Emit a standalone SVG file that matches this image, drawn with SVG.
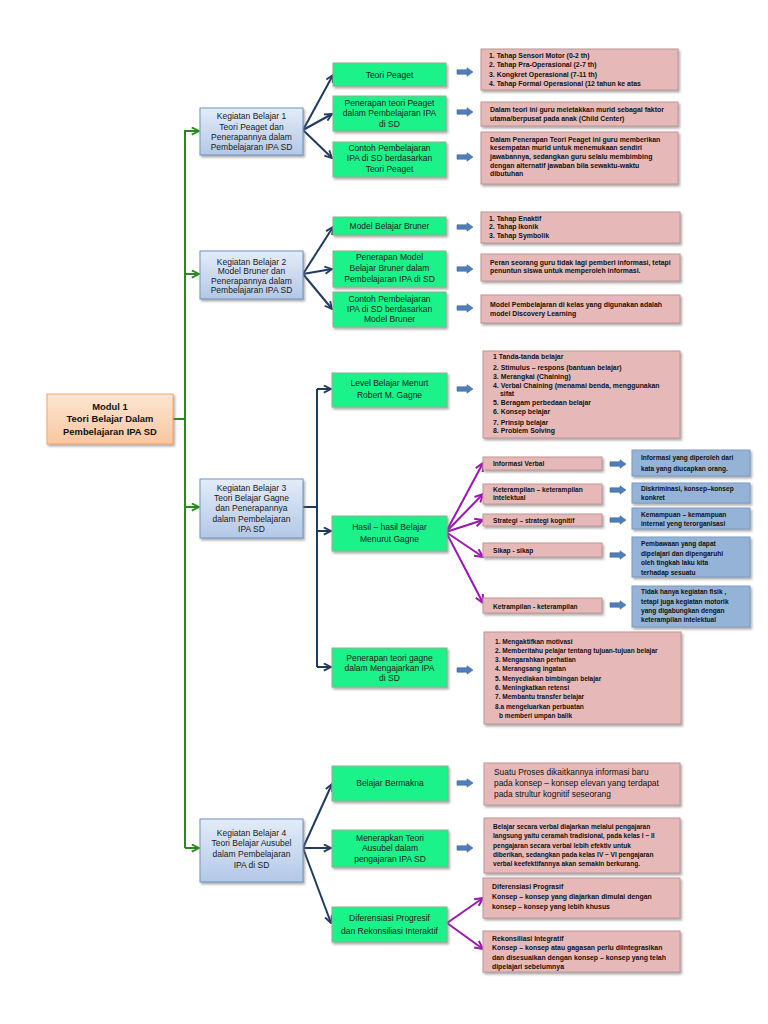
<svg xmlns="http://www.w3.org/2000/svg" width="768" height="1024" viewBox="0 0 768 1024">
<defs>
<style>
.g{fill:#1CF28A;stroke:#8FAF8F;stroke-width:1}
.k{fill:url(#kg);stroke:#6F93C4;stroke-width:1}
.p{fill:#E6B9B8;stroke:#BF9695;stroke-width:1}
.b{fill:#95B3D7;stroke:#7C9BC3;stroke-width:1}
.m{fill:url(#mg);stroke:#F2A56B;stroke-width:1}
.sh{filter:url(#ds)}
text{font-family:"Liberation Sans",Arial,sans-serif;fill:#111}
.t{font-size:8.5px;text-anchor:middle;fill:#1a1a1a}
.tm{font-size:9.4px;font-weight:bold;text-anchor:middle}
.s{font-size:6.6px;font-weight:bold}
.sl{font-size:6.9px;font-weight:bold}
.s2{font-size:6.55px;font-weight:bold}
.nv{fill:none;stroke:#1F3A63;stroke-width:2}
.gr{fill:none;stroke:#2A8A1F;stroke-width:2}
.pu{fill:none;stroke:#9A17B0;stroke-width:2}
.ba{fill:#4F7FBA;stroke:#3E6698;stroke-width:0.6}
</style>
<linearGradient id="kg" x1="0" y1="0" x2="0" y2="1"><stop offset="0" stop-color="#E3ECF8"/><stop offset="1" stop-color="#B3C8E6"/></linearGradient>
<linearGradient id="mg" x1="0" y1="0" x2="0" y2="1"><stop offset="0" stop-color="#FDE6D3"/><stop offset="1" stop-color="#F9C6A0"/></linearGradient>
<filter id="ds" x="-10%" y="-20%" width="130%" height="150%"><feDropShadow dx="1.5" dy="2" stdDeviation="0.8" flood-color="#777" flood-opacity="0.6"/></filter>
<marker id="an" viewBox="0 0 10 10" refX="9" refY="5" markerWidth="9" markerHeight="9" markerUnits="userSpaceOnUse" orient="auto"><path d="M1,1 L9,5 L1,9" fill="none" stroke="#1F3A63" stroke-width="2"/></marker>
<marker id="ag" viewBox="0 0 10 10" refX="9" refY="5" markerWidth="9" markerHeight="9" markerUnits="userSpaceOnUse" orient="auto"><path d="M1,1 L9,5 L1,9" fill="none" stroke="#2A8A1F" stroke-width="2"/></marker>
<marker id="ap" viewBox="0 0 10 10" refX="9" refY="5" markerWidth="10" markerHeight="10" markerUnits="userSpaceOnUse" orient="auto"><path d="M1,1 L9,5 L1,9" fill="none" stroke="#9A17B0" stroke-width="2"/></marker>
<path id="blk" class="ba" d="M0,-2.2 H10 V-4.2 L16,0 L10,4.2 V2.2 H0 Z"/>
</defs>
<rect width="768" height="1024" fill="#fff"/>

<g id="connectors">
<path class="gr" d="M173,419 H185 M185,130 V848"/>
<path class="gr" marker-end="url(#ag)" d="M185,131 H199"/>
<path class="gr" marker-end="url(#ag)" d="M185,274 H199"/>
<path class="gr" marker-end="url(#ag)" d="M185,507 H199"/>
<path class="gr" marker-end="url(#ag)" d="M185,848 H199"/>

<path class="nv" marker-end="url(#an)" d="M303,130 L333,75"/>
<path class="nv" marker-end="url(#an)" d="M303,130 L332,114"/>
<path class="nv" marker-end="url(#an)" d="M303,130 L332,158"/>
<path class="nv" marker-end="url(#an)" d="M303,274 L333,227"/>
<path class="nv" marker-end="url(#an)" d="M303,274 L332,269"/>
<path class="nv" marker-end="url(#an)" d="M303,274 L332,309"/>
<path class="nv" d="M303,507 H317 M317,389 V667"/>
<path class="nv" marker-end="url(#an)" d="M317,389 H331"/>
<path class="nv" marker-end="url(#an)" d="M317,531 H331"/>
<path class="nv" marker-end="url(#an)" d="M317,667 H331"/>
<path class="nv" marker-end="url(#an)" d="M303,848 L332,784"/>
<path class="nv" marker-end="url(#an)" d="M303,848 L331,848"/>
<path class="nv" marker-end="url(#an)" d="M303,848 L331,923"/>

<path class="pu" marker-end="url(#ap)" d="M446,532 L483,463"/>
<path class="pu" marker-end="url(#ap)" d="M446,532 L483,494"/>
<path class="pu" marker-end="url(#ap)" d="M446,532 L483,520"/>
<path class="pu" marker-end="url(#ap)" d="M446,532 L483,557"/>
<path class="pu" marker-end="url(#ap)" d="M446,532 L483,603"/>
<path class="pu" marker-end="url(#ap)" d="M447,923 L483,898"/>
<path class="pu" marker-end="url(#ap)" d="M447,923 L483,949"/>

<use href="#blk" x="457" y="72"/>
<use href="#blk" x="457" y="112"/>
<use href="#blk" x="457" y="157"/>
<use href="#blk" x="457" y="227"/>
<use href="#blk" x="457" y="269"/>
<use href="#blk" x="457" y="308"/>
<use href="#blk" x="457" y="389"/>
<use href="#blk" x="457" y="670"/>
<use href="#blk" x="457" y="783"/>
<use href="#blk" x="457" y="848"/>
<use href="#blk" x="610" y="464"/>
<use href="#blk" x="610" y="490"/>
<use href="#blk" x="610" y="520"/>
<use href="#blk" x="610" y="555"/>
<use href="#blk" x="610" y="605"/>
</g>

<g id="modul1">
<rect class="m sh" x="47" y="394" width="126" height="50"/>
<text class="tm" x="110" y="410">Modul 1</text>
<text class="tm" x="110" y="422">Teori Belajar Dalam</text>
<text class="tm" x="110" y="435">Pembelajaran IPA SD</text>
</g>

<g id="kb1">
<rect class="k sh" x="200" y="108" width="103" height="47"/>
<text class="t" x="251.5" y="119">Kegiatan Belajar 1</text>
<text class="t" x="251.5" y="130">Teori Peaget dan</text>
<text class="t" x="251.5" y="140">Penerapannya dalam</text>
<text class="t" x="251.5" y="150">Pembelajaran IPA SD</text>
</g>
<g id="kb2">
<rect class="k sh" x="200" y="251" width="103" height="48"/>
<text class="t" x="251.5" y="265">Kegiatan Belajar 2</text>
<text class="t" x="251.5" y="274">Model Bruner dan</text>
<text class="t" x="251.5" y="284">Penerapannya dalam</text>
<text class="t" x="251.5" y="293">Pembelajaran IPA SD</text>
</g>
<g id="kb3">
<rect class="k sh" x="200" y="479" width="103" height="59"/>
<text class="t" x="251.5" y="491">Kegiatan Belajar 3</text>
<text class="t" x="251.5" y="501">Teori  Belajar Gagne</text>
<text class="t" x="251.5" y="511">dan Penerapannya</text>
<text class="t" x="251.5" y="522">dalam Pembelajaran</text>
<text class="t" x="251.5" y="532">IPA SD</text>
</g>
<g id="kb4">
<rect class="k sh" x="200" y="819" width="103" height="63"/>
<text class="t" x="251.5" y="836">Kegiatan Belajar 4</text>
<text class="t" x="251.5" y="846">Teori Belajar Ausubel</text>
<text class="t" x="251.5" y="857">dalam Pembelajaran</text>
<text class="t" x="251.5" y="868">IPA di SD</text>
</g>

<g id="g-peaget">
<rect class="g sh" x="333" y="63" width="113" height="23"/>
<text class="t" x="389.5" y="78">Teori Peaget</text>
</g>
<g id="g-penerapan-peaget">
<rect class="g sh" x="333" y="96" width="113" height="35"/>
<text class="t" x="389.5" y="106">Penerapan teori Peaget</text>
<text class="t" x="389.5" y="116">dalam Pembelajaran IPA</text>
<text class="t" x="389.5" y="127">di SD</text>
</g>
<g id="g-contoh-peaget">
<rect class="g sh" x="333" y="142" width="113" height="35"/>
<text class="t" x="389.5" y="151">Contoh Pembelajaran</text>
<text class="t" x="389.5" y="161">IPA di  SD berdasarkan</text>
<text class="t" x="389.5" y="172">Teori Peaget</text>
</g>

<g id="p-peaget">
<rect class="p sh" x="481" y="49" width="197" height="41"/>
<text class="sl" x="489" y="57.5">1. Tahap Sensori Motor (0-2 th)</text>
<text class="sl" x="489" y="67">2. Tahap Pra-Operasional (2-7 th)</text>
<text class="sl" x="489" y="76.5">3. Kongkret Operasional (7-11 th)</text>
<text class="sl" x="489" y="86">4. Tahap Formal Operasional (12 tahun ke atas</text>
</g>
<g id="p-penerapan-peaget">
<rect class="p sh" x="481" y="102" width="197" height="24"/>
<text class="sl" x="490" y="111.5">Dalam teori ini guru meletakkan murid sebagai faktor</text>
<text class="sl" x="490" y="120.5">utama/berpusat pada anak (Child Center)</text>
</g>
<g id="p-contoh-peaget">
<rect class="p sh" x="481" y="132" width="197" height="52"/>
<text class="sl" x="490" y="141.5">Dalam Penerapan Teori Peaget ini guru memberikan</text>
<text class="sl" x="490" y="150">kesempatan murid untuk menemukaan sendiri</text>
<text class="sl" x="490" y="158.5">jawabannya, sedangkan guru selalu membimbing</text>
<text class="sl" x="490" y="167.5">dengan alternatif jawaban bila sewaktu-waktu</text>
<text class="sl" x="490" y="176">dibutuhan</text>
</g>

<g id="g-bruner">
<rect class="g sh" x="333" y="217" width="113" height="18"/>
<text class="t" x="389.5" y="229">Model Belajar Bruner</text>
</g>
<g id="g-penerapan-bruner">
<rect class="g sh" x="333" y="251" width="113" height="36"/>
<text class="t" x="389.5" y="260">Penerapan Model</text>
<text class="t" x="389.5" y="271">Belajar Bruner dalam</text>
<text class="t" x="389.5" y="282">Pembelajaran IPA di SD</text>
</g>
<g id="g-contoh-bruner">
<rect class="g sh" x="333" y="292" width="113" height="35"/>
<text class="t" x="389.5" y="302">Contoh Pembelajaran</text>
<text class="t" x="389.5" y="312">IPA di SD berdasarkan</text>
<text class="t" x="389.5" y="322">Model Bruner</text>
</g>

<g id="p-bruner">
<rect class="p sh" x="481" y="212" width="199" height="31"/>
<text class="sl" x="489" y="220.5">1. Tahap Enaktif</text>
<text class="sl" x="489" y="229">2. Tahap Ikonik</text>
<text class="sl" x="489" y="237.5">3. Tahap Symbolik</text>
</g>
<g id="p-penerapan-bruner">
<rect class="p sh" x="481" y="254" width="199" height="27"/>
<text class="sl" x="490" y="264.5">Peran seorang guru tidak lagi pemberi informasi, tetapi</text>
<text class="sl" x="490" y="273">penuntun siswa untuk memperoleh informasi.</text>
</g>
<g id="p-contoh-bruner">
<rect class="p sh" x="481" y="295" width="199" height="28"/>
<text class="sl" x="490" y="306.5">Model Pembelajaran di kelas yang digunakan adalah</text>
<text class="sl" x="490" y="315.5">model Discovery Learning</text>
</g>

<g id="g-level">
<rect class="g sh" x="332" y="373" width="115" height="34"/>
<text class="t" x="389.5" y="386">Level Belajar Menurt</text>
<text class="t" x="389.5" y="398">Robert M. Gagne</text>
</g>
<g id="p-level">
<rect class="p sh" x="483" y="351" width="197" height="87"/>
<text class="sl" x="493" y="358.5">1 Tanda-tanda belajar</text>
<text class="sl" x="493" y="370">2. Stimulus – respons (bantuan belajar)</text>
<text class="sl" x="493" y="378.5">3. Merangkai (Chaining)</text>
<text class="sl" x="493" y="387.5">4. Verbal Chaining (menamai benda, menggunakan</text>
<text class="sl" x="500" y="395.5">sifat</text>
<text class="sl" x="493" y="405">5. Beragam perbedaan belajar</text>
<text class="sl" x="493" y="413.5">6. Konsep belajar</text>
<text class="sl" x="493" y="424.5">7. Prinsip belajar</text>
<text class="sl" x="493" y="433">8. Problem Solving</text>
</g>

<g id="g-hasil">
<rect class="g sh" x="332" y="516" width="115" height="35"/>
<text class="t" x="389.5" y="530">Hasil – hasil Belajar</text>
<text class="t" x="389.5" y="542">Menurut Gagne</text>
</g>
<g id="h-verbal">
<rect class="p sh" x="483" y="457" width="119" height="13"/>
<text class="s" x="493" y="465.5">Informasi Verbal</text>
</g>
<g id="h-intelektual">
<rect class="p sh" x="483" y="484" width="119" height="20"/>
<text class="s" x="493" y="491.5">Keterampilan – keterampilan</text>
<text class="s" x="493" y="500">intelektual</text>
</g>
<g id="h-strategi">
<rect class="p sh" x="483" y="514" width="119" height="12"/>
<text class="s" x="493" y="522.5">Strategi – strategi kognitif</text>
</g>
<g id="h-sikap">
<rect class="p sh" x="483" y="543" width="119" height="14"/>
<text class="s" x="493" y="553">Sikap - sikap</text>
</g>
<g id="h-ketrampilan">
<rect class="p sh" x="483" y="598" width="119" height="15"/>
<text class="s" x="493" y="608.5">Ketrampilan - keterampilan</text>
</g>

<g id="bl-verbal">
<rect class="b sh" x="632" y="450" width="118" height="26"/>
<text class="s" x="641" y="459.5">Informasi yang diperoleh dari</text>
<text class="s" x="641" y="470.5">kata yang diucapkan orang.</text>
</g>
<g id="bl-intelektual">
<rect class="b sh" x="632" y="483" width="118" height="20"/>
<text class="s" x="641" y="490.5">Diskriminasi, konsep–konsep</text>
<text class="s" x="641" y="499.5">konkret</text>
</g>
<g id="bl-strategi">
<rect class="b sh" x="632" y="508" width="118" height="21"/>
<text class="s" x="641" y="516.5">Kemampuan – kemampuan</text>
<text class="s" x="641" y="525.5">internal yeng terorganisasi</text>
</g>
<g id="bl-sikap">
<rect class="b sh" x="632" y="537" width="118" height="40"/>
<text class="s" x="641" y="545.5">Pembawaan yang dapat</text>
<text class="s" x="641" y="555.5">dipelajari dan dipengaruhi</text>
<text class="s" x="641" y="565">oleh tingkah laku kita</text>
<text class="s" x="641" y="574.5">terhadap sesuatu</text>
</g>
<g id="bl-ketrampilan">
<rect class="b sh" x="632" y="586" width="118" height="41"/>
<text class="s" x="641" y="593.5">Tidak hanya kegiatan fisik ,</text>
<text class="s" x="641" y="603.5">tetapi juga kegiatan motorik</text>
<text class="s" x="641" y="612.5">yang digabungkan dengan</text>
<text class="s" x="641" y="621.5">keterampilan intelektual</text>
</g>

<g id="g-penerapan-gagne">
<rect class="g sh" x="332" y="648" width="115" height="39"/>
<text class="t" x="389.5" y="661">Penerapan teori gagne</text>
<text class="t" x="389.5" y="671">dalam Mengajarkan IPA</text>
<text class="t" x="389.5" y="681">di SD</text>
</g>
<g id="p-penerapan-gagne">
<rect class="p sh" x="484" y="632" width="197" height="92"/>
<text class="s2" x="495" y="643.5">1. Mengaktifkan motivasi</text>
<text class="s2" x="495" y="652.5">2. Memberitahu pelajar tentang tujuan-tujuan belajar</text>
<text class="s2" x="495" y="661.5">3. Mengarahkan perhatian</text>
<text class="s2" x="495" y="671">4. Merangsang ingatan</text>
<text class="s2" x="495" y="680.5">5. Menyediakan bimbingan belajar</text>
<text class="s2" x="495" y="690">6. Meningkatkan retensi</text>
<text class="s2" x="495" y="699">7. Membantu transfer belajar</text>
<text class="s2" x="495" y="708.5">8.a mengeluarkan perbuatan</text>
<text class="s2" x="499" y="717.5">b memberi umpan balik</text>
</g>

<g id="g-bermakna">
<rect class="g sh" x="332" y="766" width="116" height="35"/>
<text class="t" x="390" y="786">Belajar Bermakna</text>
</g>
<g id="g-menerapkan">
<rect class="g sh" x="332" y="830" width="116" height="37"/>
<text class="t" x="390" y="841">Menerapkan Teori</text>
<text class="t" x="390" y="851">Ausubel dalam</text>
<text class="t" x="390" y="862">pengajaran IPA SD</text>
</g>
<g id="g-diferensiasi">
<rect class="g sh" x="332" y="907" width="115" height="35"/>
<text class="t" x="389.5" y="921">Diferensiasi Progresif</text>
<text class="t" x="389.5" y="934">dan Rekonsiliasi Interaktif</text>
</g>

<g id="p-bermakna">
<rect class="p sh" x="484" y="763" width="196" height="42"/>
<text x="494" y="775" style="font-size:8.4px">Suatu Proses dikaitkannya informasi baru</text>
<text x="494" y="786" style="font-size:8.4px">pada konsep – konsep elevan yang terdapat</text>
<text x="494" y="796.5" style="font-size:8.4px">pada strultur kognitif seseorang</text>
</g>
<g id="p-menerapkan">
<rect class="p sh" x="484" y="818" width="196" height="55"/>
<text class="s2" x="493" y="829">Belajar secara verbal diajarkan melalui pengajaran</text>
<text class="s2" x="493" y="838">langsung yaitu ceramah tradisional, pada kelas I – II</text>
<text class="s2" x="493" y="847.5">pengajaran secara verbal lebih efektiv untuk</text>
<text class="s2" x="493" y="856.5">diberikan, sedangkan pada kelas IV – VI pengajaran</text>
<text class="s2" x="493" y="866">verbal keefektifannya akan semakin berkurang.</text>
</g>
<g id="p-progresif">
<rect class="p sh" x="483" y="878" width="197" height="40"/>
<text class="sl" x="492" y="888.5">Diferensiasi Prograsif</text>
<text class="sl" x="492" y="898.5">Konsep – konsep yang diajarkan dimulai dengan</text>
<text class="sl" x="492" y="908.5">konsep – konsep yang lebih khusus</text>
</g>
<g id="p-integratif">
<rect class="p sh" x="483" y="931" width="197" height="41"/>
<text class="sl" x="492" y="940.5">Rekonsiliasi Integratif</text>
<text class="sl" x="492" y="950">Konsep – konsep atau gagasan perlu diintegrasikan</text>
<text class="sl" x="492" y="959.5">dan disesuaikan dengan konsep – konsep yang telah</text>
<text class="sl" x="492" y="968.5">dipelajari sebelumnya</text>
</g>
</svg>
